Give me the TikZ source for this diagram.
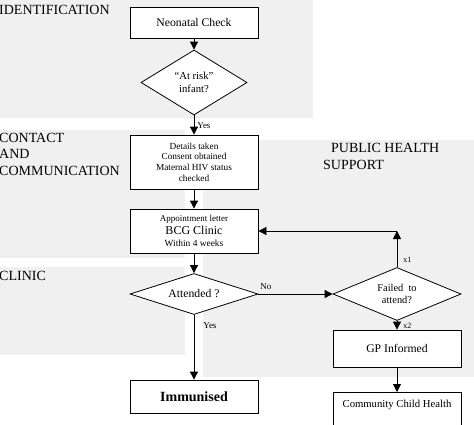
\documentclass[tikz,border=0pt]{standalone}
\usepackage{fontspec}
\setmainfont{Liberation Serif}
\usetikzlibrary{shapes.geometric,arrows.meta}
\begin{document}
\begin{tikzpicture}[x=1pt,y=-1pt,
  region/.style={fill=black!6, draw=none},
  boxnode/.style={draw, line width=0.8pt, fill=white, minimum width=128pt, align=center, inner sep=2pt},
  decision/.style={draw, line width=0.8pt, fill=white, diamond, inner sep=0pt, align=center},
  arr/.style={line width=0.8pt, -{Triangle[length=8pt,width=8pt]}},
  lane/.style={anchor=north west, inner sep=0pt, font=\fontsize{14}{16.5}\selectfont, align=left},
  lbl/.style={font=\fontsize{9}{10}\selectfont, inner sep=0pt},
  smalllbl/.style={font=\fontsize{8}{9}\selectfont, inner sep=0pt}
]
\useasboundingbox (0,0) rectangle (474,424);
% swim-lane backgrounds
\fill[region] (0,0) rectangle (313,118);
\fill[region] (0,130) rectangle (185,258);
\fill[region] (0,267) rectangle (185,355);
\fill[region] (203,140) rectangle (474,377);
% lane titles
\node[lane] (lid) at (-1,5.5) {IDENTIFICATION};
\node[lane] (lcon) at (-1,132.7) {CONTACT\\AND\\COMMUNICATION};
\node[lane] (lcli) at (-1,271.5) {CLINIC};
\node[lane] (lphs) at (323,143.5) {\hspace*{8pt}PUBLIC HEALTH\\SUPPORT};
% nodes
\node[boxnode, minimum height=31pt, font=\fontsize{11.7}{13}\selectfont] (neo) at (194,22.5) {Neonatal Check};
\node[decision, aspect=1.6, minimum width=106pt, minimum height=65pt, font=\fontsize{10.7}{13.5}\selectfont] (risk) at (194,82.5) {“At risk”\\infant?};
\node[boxnode, minimum height=54pt, font=\fontsize{9.3}{10.7}\selectfont] (det) at (194,162) {Details taken\\Consent obtained\\Maternal HIV status\\checked};
\node[boxnode, minimum height=44pt, font=\fontsize{9.4}{12.5}\selectfont] (app) at (194,231) {{\fontsize{9}{11}\selectfont Appointment letter}\\{\fontsize{12}{14}\selectfont BCG Clinic}\\Within 4 weeks};
\node[decision, aspect=3, minimum width=128pt, minimum height=41pt, font=\fontsize{11.7}{13}\selectfont] (att) at (194,294) {Attended ?};
\node[boxnode, minimum height=33pt, font=\fontsize{14}{16}\selectfont\bfseries] (imm) at (194,396.5) {Immunised};
\node[decision, aspect=2.4, minimum width=128pt, minimum height=53pt, font=\fontsize{10.4}{12.5}\selectfont] (fail) at (397,294) {Failed\ \ to\\attend?};
\node[boxnode, minimum height=37pt, font=\fontsize{11.7}{13}\selectfont] (gp) at (397,348.5) {GP Informed};
\node[boxnode, anchor=north, text height=13pt, text depth=24pt, font=\fontsize{10.7}{12}\selectfont] (cch) at (397,392) {Community Child Health};
% connectors
\coordinate (corner) at (fail.north |- app.east);
\draw[arr] (neo) -- (risk);
\draw[arr] (risk) -- (det) node[lbl, pos=0.55, anchor=west, xshift=3pt] {Yes};
\draw[arr] (det) -- (app);
\draw[arr] (app) -- (att);
\draw[arr] (att) -- (imm) node[lbl, pos=0.16, anchor=west, xshift=9pt] {Yes};
\draw[arr] (att.east) -- (fail.west) node[lbl, pos=0.1, above=4pt] {No};
\draw[arr] (fail.north) -- (corner) node[smalllbl, pos=0.2, anchor=west, xshift=6pt] {x1};
\draw[arr] (corner) -- (app.east);
\draw[arr] (fail) -- (gp) node[smalllbl, pos=0.6, anchor=west, xshift=6pt] {x2};
\draw[arr] (gp) -- (cch);
\end{tikzpicture}
\end{document}
